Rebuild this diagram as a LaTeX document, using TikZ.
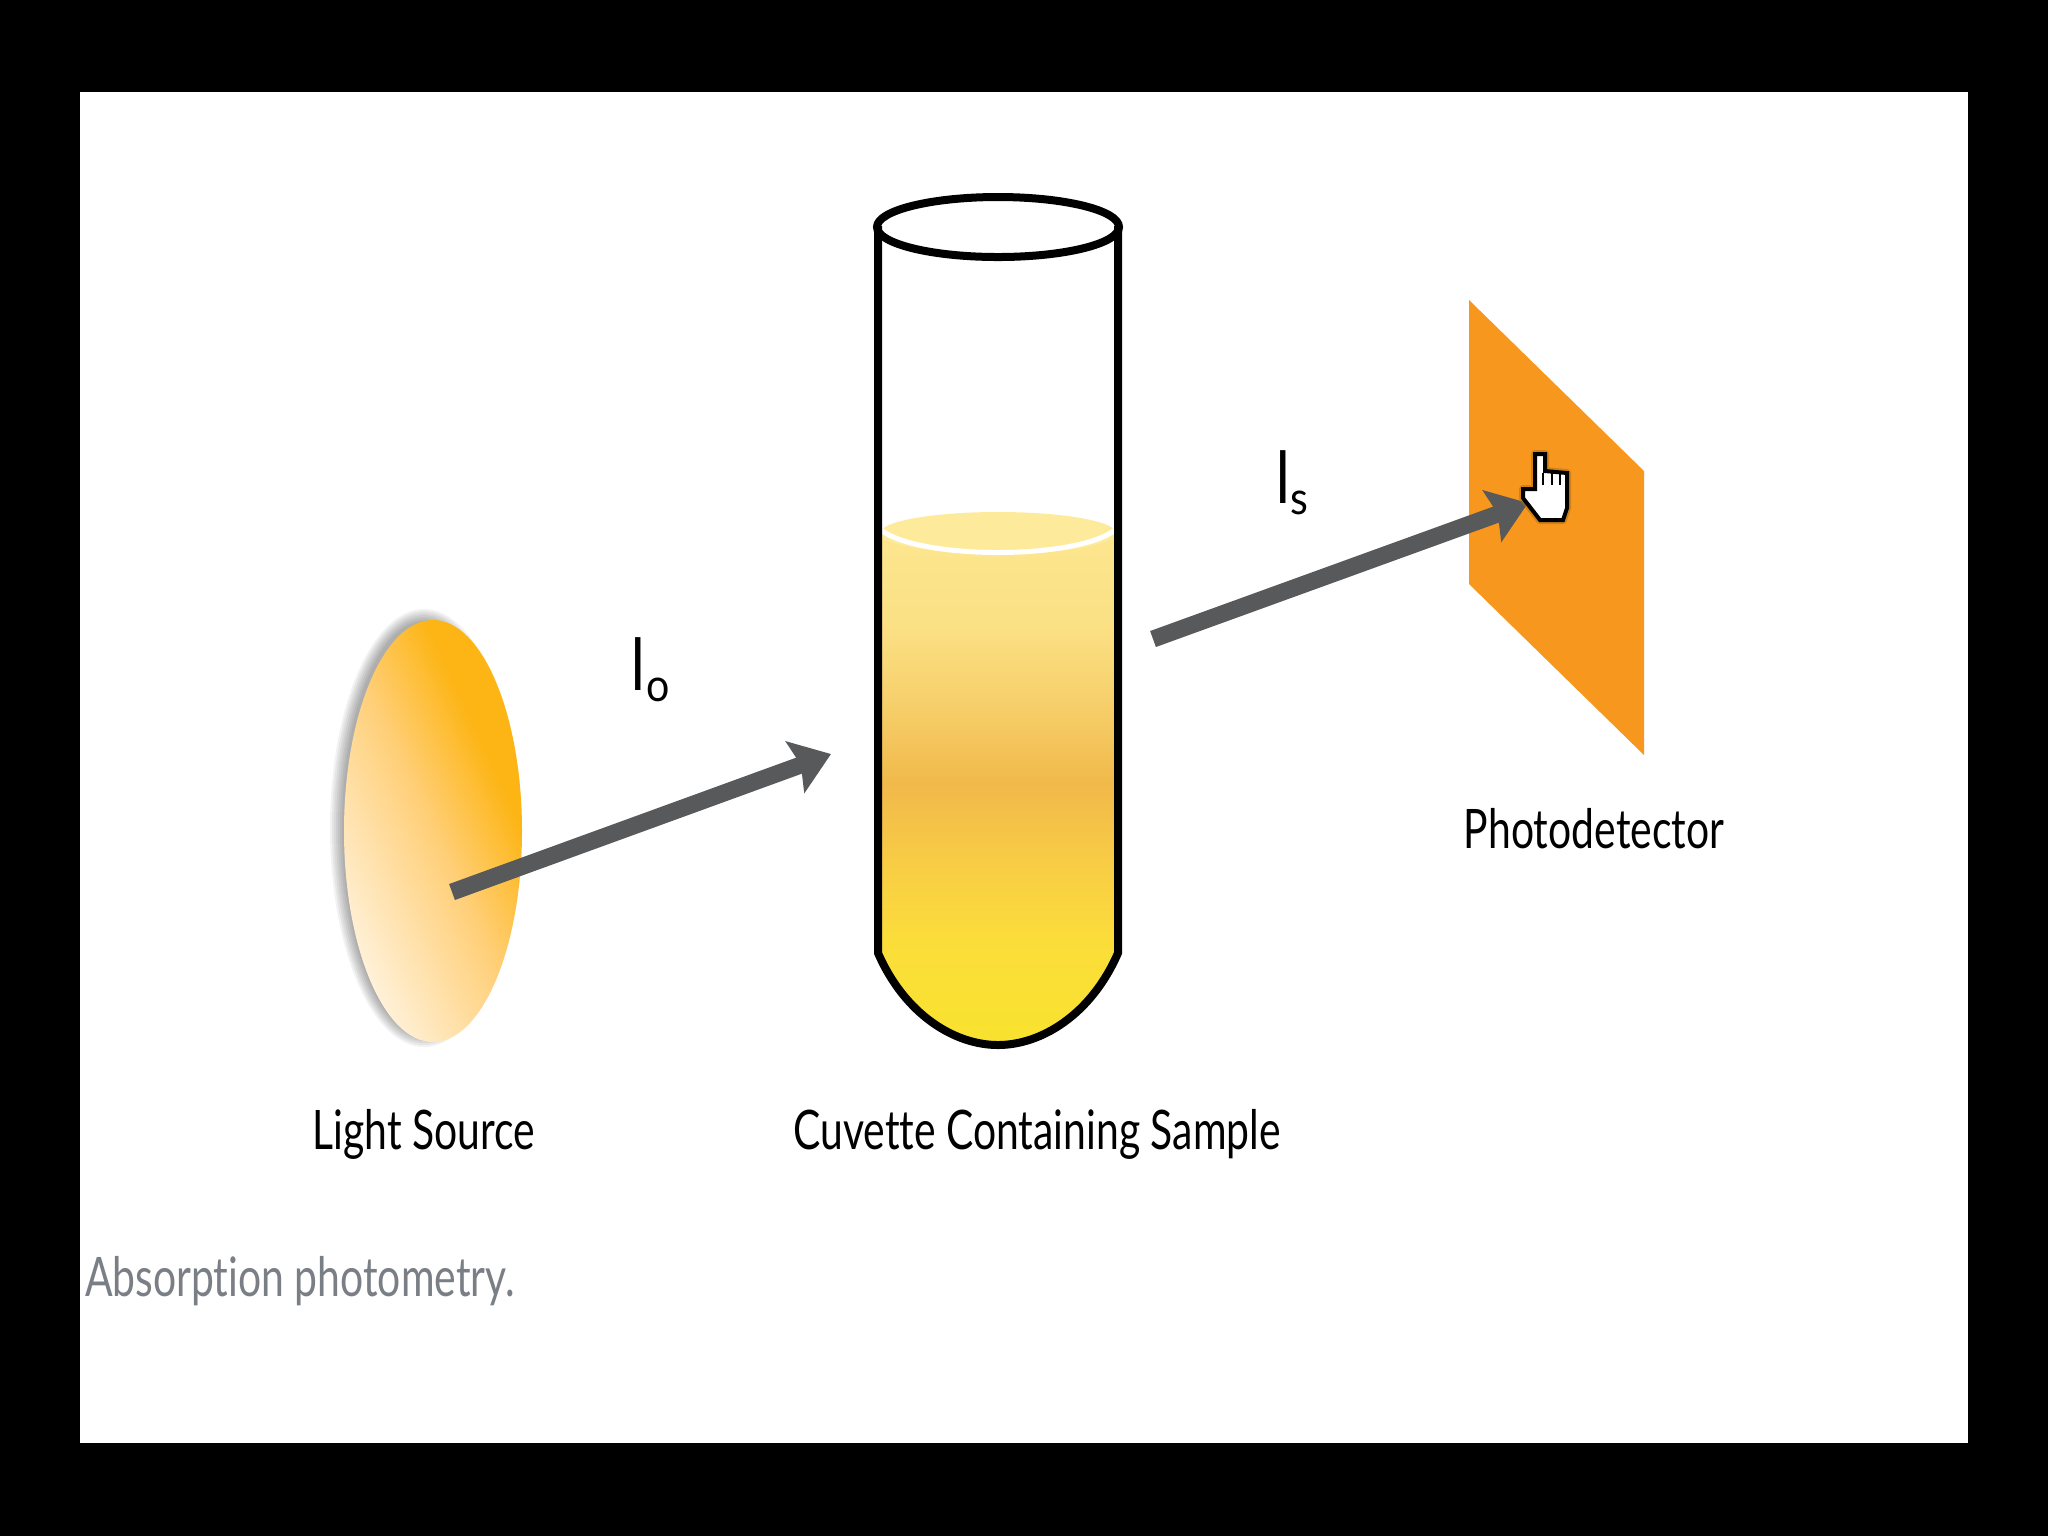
\documentclass[tikz,border=0pt]{standalone}
\usepackage{fontspec}
\setmainfont{Lato}[Ligatures=CommonOff]
\usepackage{tikz}
\usetikzlibrary{arrows.meta, positioning}
\definecolor{beam}{HTML}{58595B}
\definecolor{plate}{HTML}{F8971D}
\definecolor{capgrey}{HTML}{7A7E85}
\definecolor{liqa}{HTML}{F9E22F}
\definecolor{liqb}{HTML}{FBDD3A}
\definecolor{liqc}{HTML}{F8CC45}
\definecolor{liqd}{HTML}{F1B94A}
\definecolor{liqe}{HTML}{F6CF6A}
\definecolor{liqf}{HTML}{FBE084}
\definecolor{liqg}{HTML}{FCE68F}
\definecolor{liqtop}{HTML}{FDEB9B}
\definecolor{lampa}{HTML}{FFF3DE}
\definecolor{lampb}{HTML}{FFCF78}
\definecolor{lampc}{HTML}{FDB515}
\pgfdeclareverticalshading{liquid}{100bp}{color(0bp)=(liqa); color(26bp)=(liqa); color(35.3bp)=(liqb); color(42.9bp)=(liqc); color(50.5bp)=(liqd); color(58.2bp)=(liqe); color(65.8bp)=(liqf); color(75bp)=(liqg); color(100bp)=(liqg)}
\pgfdeclarehorizontalshading{lampglow}{100bp}{color(0bp)=(lampa); color(25bp)=(lampa); color(50bp)=(lampb); color(66bp)=(lampc); color(100bp)=(lampc)}
\tikzset{
	lbl/.style={anchor=base, inner sep=0pt, transform shape, xscale=0.75, font=\fontsize{15.5}{18}\selectfont},
	biglbl/.style={lbl, font=\fontsize{21}{22}\selectfont},
	beamline/.style={-{Stealth[length=3.8mm, width=5.4mm, inset=0.6mm]}, draw=beam, line width=1.7mm},
	glass/.style={draw=black, line width=0.8mm}
}
\newcommand{\subs}[1]{\raisebox{-3.4pt}{\fontsize{13}{13}\selectfont\scalebox{1.2}[1]{#1}}}
\begin{document}
\begin{tikzpicture}[x=0.1mm, y=-0.1mm]
	\useasboundingbox (0,0) rectangle (2048,1536);
	\fill[black] (0,0) rectangle (2048,1536);
	\fill[white] (80,92) rectangle (1968,1443);
	% lamp
	\foreach \r in {2,4,...,14}
		\fill[black, opacity=0.05] (424,828) ellipse [x radius={80+\r}, y radius={205+\r}];
	\shade[shading=lampglow, shading angle=25] (433,831) ellipse [x radius=89, y radius=211];
	% cuvette
	\shade[shading=liquid] (878,533) -- (1118,533) -- (1118,953) .. controls (1091,1015) and (1041,1045) .. (998,1045) .. controls (955,1045) and (905,1015) .. (878,953) -- cycle;
	\fill[liqtop] (998,533) ellipse [x radius=118, y radius=21];
	\draw[white, line width=0.5mm] (881,530) .. controls (920,560) and (1076,560) .. (1115,530);
	\draw[glass] (878,226) -- (878,953) .. controls (905,1015) and (955,1045) .. (998,1045) .. controls (1041,1045) and (1091,1015) .. (1118,953) -- (1118,226);
	\draw[glass] (998,227) ellipse [x radius=121, y radius=30];
	% detector
	\fill[plate] (1469,300) -- (1644,471) -- (1644,755) -- (1469,584) -- cycle;
	% beams
	\coordinate (lamp) at (452,892);
	\coordinate (cellin) at (831,754);
	\coordinate (cellout) at (1153,639);
	\coordinate (det) at (1528,503);
	\draw[beamline] (lamp) -- (cellin);
	\draw[beamline] (cellout) -- (det);
	% cursor
	\draw[plate!70!black, line width=0.8mm, opacity=0.5, line join=round] (1535,454) -- (1545,454) -- (1545,471) -- (1567,473) -- (1567,508) -- (1563,520) -- (1540,520) -- (1523,498) -- (1523,489) -- (1535,489) -- cycle;
	\draw[black, fill=white, line width=0.4mm] (1535,454) -- (1545,454) -- (1545,471) -- (1567,473) -- (1567,508) -- (1563,520) -- (1540,520) -- (1523,498) -- (1523,489) -- (1535,489) -- cycle;
	\draw[black, line width=0.25mm] (1543,473) -- (1543,485) (1552,473) -- (1552,485) (1560,473) -- (1560,485);
	% labels
	\node at (424,1149) (lightsource) [lbl] {Light Source};
	\node at (1037,1149) (cuvette) [lbl] {Cuvette Containing Sample};
	\node at (1594,848) (photodetector) [lbl] {Photodetector};
	\node at (300,1296) (caption) [lbl, text=capgrey] {Absorption photometry.};
	\node at (650,690) (izero) [biglbl] {I\subs{o}};
	\node at (1292,503) (isample) [biglbl] {I\subs{s}};
\end{tikzpicture}
\end{document}
